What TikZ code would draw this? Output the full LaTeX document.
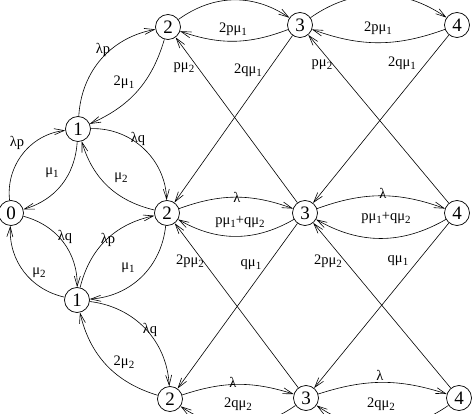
\documentclass[tikz,border=0pt]{standalone}
\usepackage{fontspec}
\setmainfont{Liberation Serif}
\usepackage{tikz}
\usetikzlibrary{arrows.meta}
\newcommand{\sbs}[1]{\raisebox{-0.45ex}{\fontsize{11}{11}\selectfont #1}}
\tikzstyle{state} = [
    circle,
    draw,
    line width=0.7pt,
    minimum size=25pt,
    inner sep=0pt,
    font=\fontsize{19}{19}\selectfont
]
\tikzstyle{arrow} = [
    -{Straight Barb[length=10pt,width=6pt]},
    line width=0.6pt
]

\begin{document}
\begin{tikzpicture}[
    x=1pt, y=-1pt,
    lbl/.style={font=\fontsize{14.5}{14.5}\selectfont, inner sep=0pt}
]
    \useasboundingbox (0,0) rectangle (474,414);
    \clip (0,0) rectangle (474,414);

    % States
    \node[state] (n0) at (11,213) {0};
    \node[state] (a1) at (78,129) {1};
    \node[state] (b1) at (77,300) {1};
    \node[state] (a2) at (168,27) {2};
    \node[state] (m2) at (167,213) {2};
    \node[state] (c2) at (170,399) {2};
    \node[state] (a3) at (300,25) {3};
    \node[state] (m3) at (305,213) {3};
    \node[state] (c3) at (306,398) {3};
    \node[state] (a4) at (457,25) {4};
    \node[state] (m4) at (457,213) {4};
    \node[state] (c4) at (459,398) {4};

    % Left part
    \draw[arrow] (n0) to[bend left=45] (a1);
    \draw[arrow] (a1) to[bend left=35] (n0);
    \draw[arrow] (n0) to[bend left=38] (b1);
    \draw[arrow] (b1) to[bend left=40] (n0);
    \draw[arrow] (a1) to[bend left=45] (m2);
    \draw[arrow] (m2) to[bend left=30] (a1);
    \draw[arrow] (b1) to[bend left=32] (m2);
    \draw[arrow] (m2) to[bend left=40] (b1);
    \draw[arrow] (a1) to[bend left=38] (a2);
    \draw[arrow] (a2) to[bend left=25] (a1);
    \draw[arrow] (b1) to[bend left=40] (c2);
    \draw[arrow] (c2) to[bend left=30] (b1);

    % Rows
    \draw[arrow] (a2) to[bend left=35] (a3);
    \draw[arrow] (a3) to[bend left=20] (a2);
    \draw[arrow] (a3) to[bend left=35] (a4);
    \draw[arrow] (a4) to[bend left=20] (a3);
    \draw[arrow] (m2) to[bend left=20] (m3);
    \draw[arrow] (m3) to[bend left=30] (m2);
    \draw[arrow] (m3) to[bend left=20] (m4);
    \draw[arrow] (m4) to[bend left=30] (m3);
    \draw[arrow] (c2) to[bend left=18] (c3);
    \draw[arrow] (c3) to[bend left=35] (c2);
    \draw[arrow] (c3) to[bend left=18] (c4);
    \draw[arrow] (c4) to[bend left=35] (c3);

    % Diagonals
    \draw[arrow] (m3) -- (a2);
    \draw[arrow] (a3) -- (m2);
    \draw[arrow] (m4) -- (a3);
    \draw[arrow] (a4) -- (m3);
    \draw[arrow] (c3) -- (m2);
    \draw[arrow] (m3) -- (c2);
    \draw[arrow] (c4) -- (m3);
    \draw[arrow] (m4) -- (c3);

    % Rates
    \node[lbl] (r01) at (17,143) {λp};
    \node[lbl] (r10) at (52,173) {μ\sbs{1}};
    \node[lbl] (r0b) at (65,237) {λq};
    \node[lbl] (rb0) at (39,273) {μ\sbs{2}};
    \node[lbl] (ram) at (138,139) {λq};
    \node[lbl] (rma) at (121,178) {μ\sbs{2}};
    \node[lbl] (rbm) at (108,240) {λp};
    \node[lbl] (rmb) at (128,268) {μ\sbs{1}};
    \node[lbl] (raa) at (103,50) {λp};
    \node[lbl] (raA) at (124,82) {2μ\sbs{1}};
    \node[lbl] (rbc) at (150,330) {λq};
    \node[lbl] (rcb) at (124,362) {2μ\sbs{2}};
    \node[lbl] (rt1) at (233,29) {2pμ\sbs{1}};
    \node[lbl] (rt2) at (378,28) {2pμ\sbs{1}};
    \node[lbl] (rd1) at (184,68) {pμ\sbs{2}};
    \node[lbl] (rd2) at (248,70) {2qμ\sbs{1}};
    \node[lbl] (rd3) at (322,65) {pμ\sbs{2}};
    \node[lbl] (rd4) at (402,63) {2qμ\sbs{1}};
    \node[lbl] (rm1) at (237,197) {λ};
    \node[lbl] (rm2) at (240,222) {pμ\sbs{1}+qμ\sbs{2}};
    \node[lbl] (rm3) at (383,193) {λ};
    \node[lbl] (rm4) at (386,218) {pμ\sbs{1}+qμ\sbs{2}};
    \node[lbl] (rd5) at (190,261) {2pμ\sbs{2}};
    \node[lbl] (rd6) at (251,265) {qμ\sbs{1}};
    \node[lbl] (rd7) at (328,261) {2pμ\sbs{2}};
    \node[lbl] (rd8) at (398,261) {qμ\sbs{1}};
    \node[lbl] (rc1) at (233,382) {λ};
    \node[lbl] (rc2) at (238,404) {2qμ\sbs{2}};
    \node[lbl] (rc3) at (380,375) {λ};
    \node[lbl] (rc4) at (381,404) {2qμ\sbs{2}};

\end{tikzpicture}
\end{document}
